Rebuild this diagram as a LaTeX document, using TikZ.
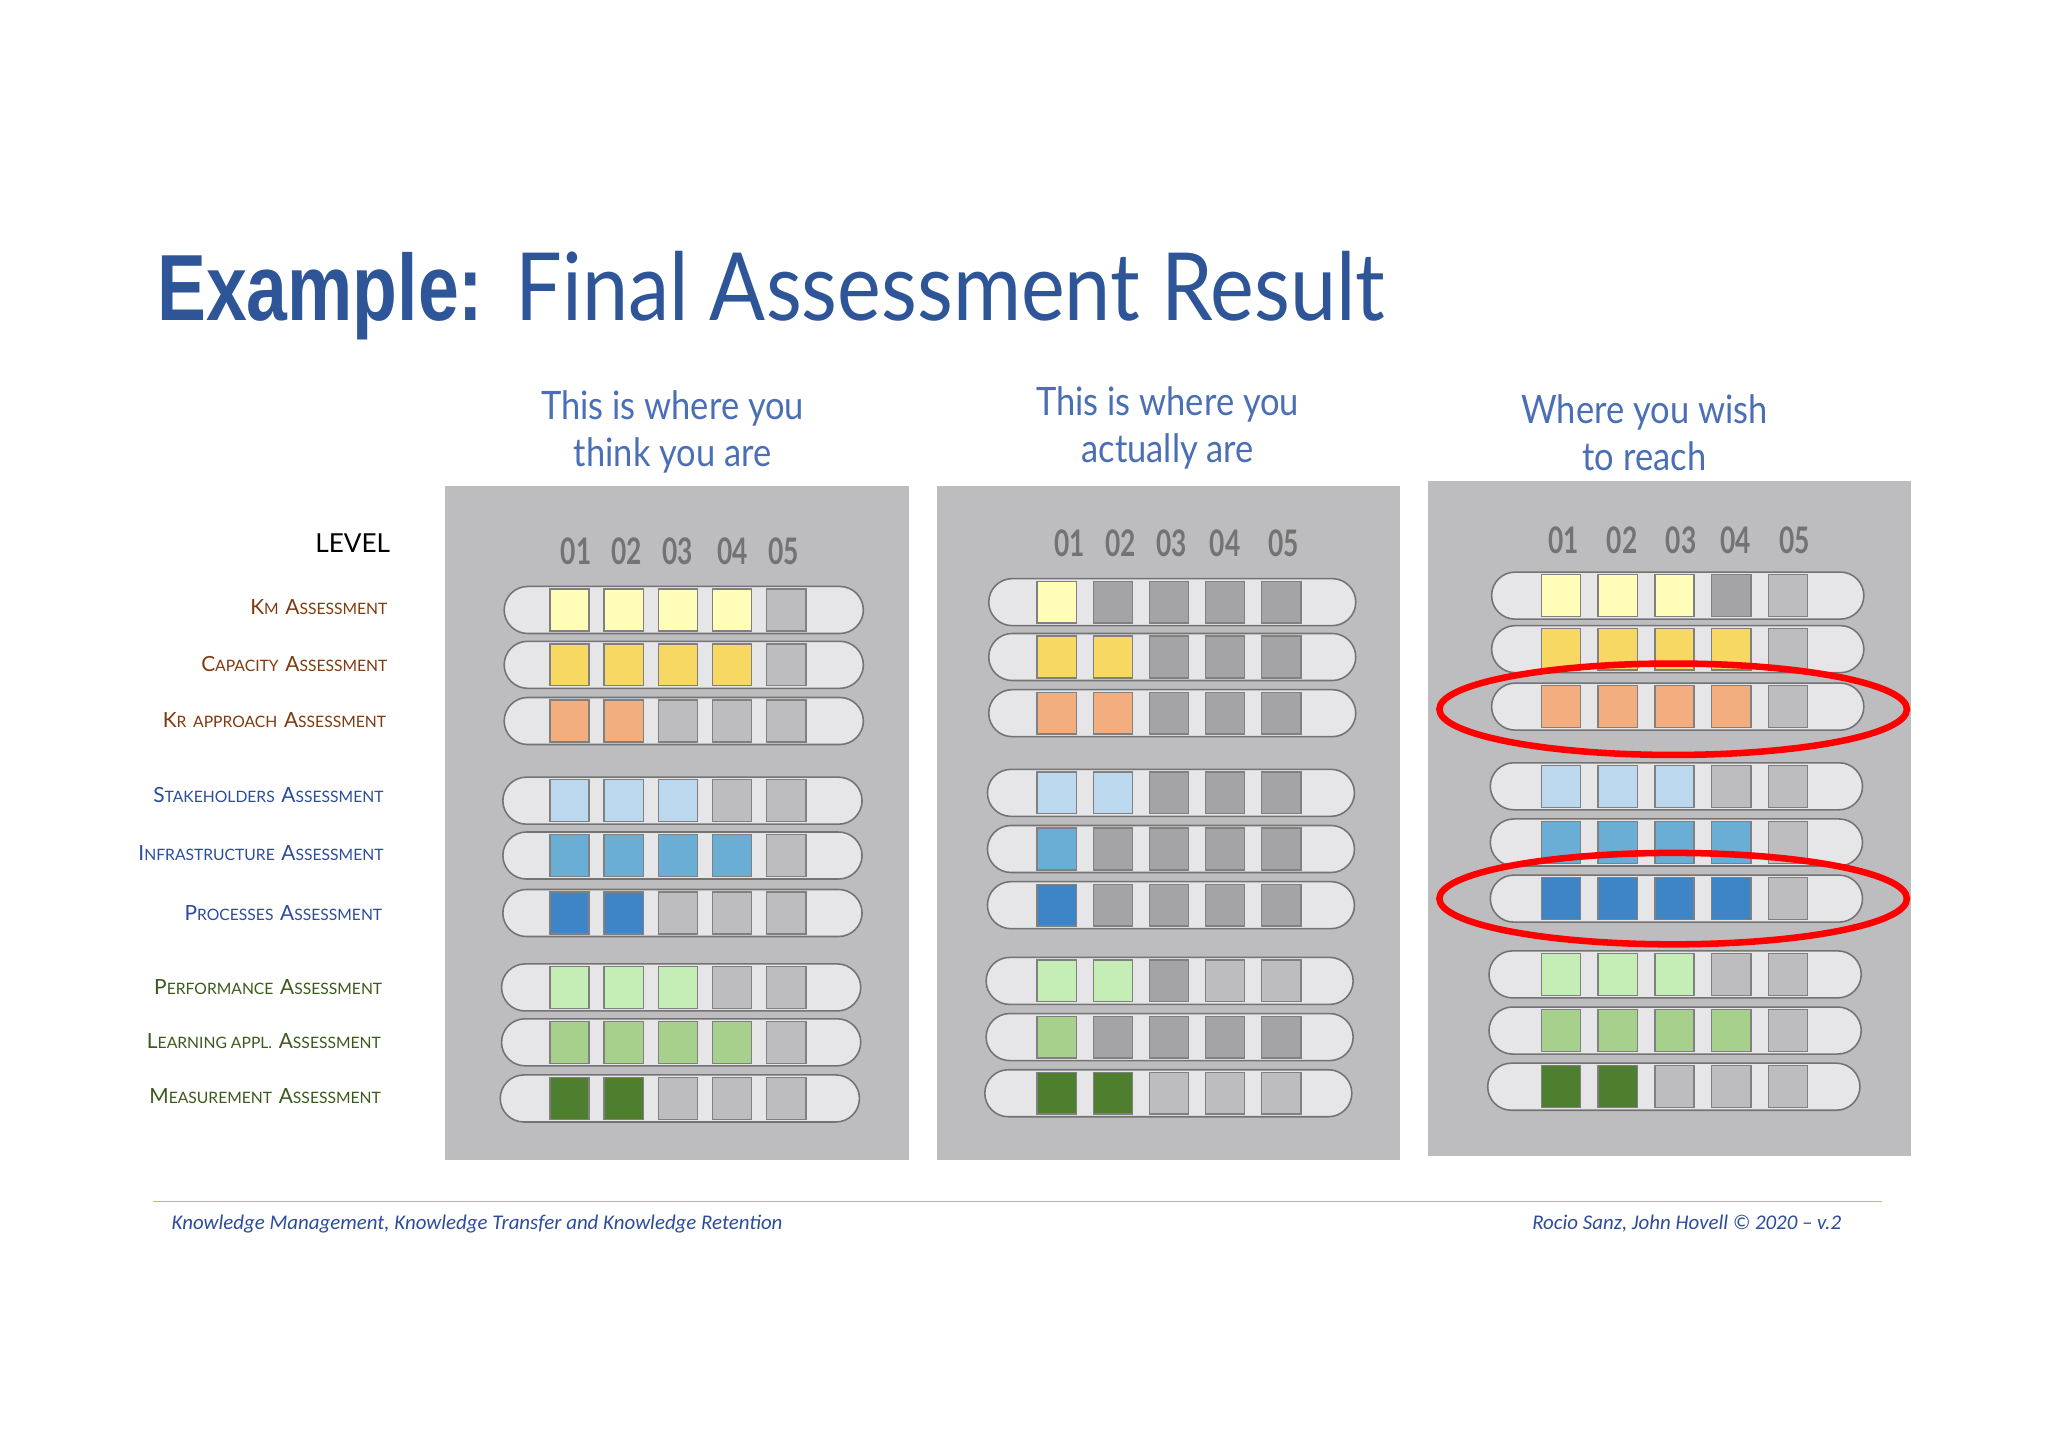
\documentclass[tikz,border=0pt]{standalone}
\usepackage{fontspec}
\setmainfont{Lato}
\newfontfamily\numfont[FakeStretch=0.72]{Lato}
\newfontfamily\narrowfont[FakeStretch=0.88]{Lato}
\newfontfamily\titlefont[FakeStretch=0.78]{Liberation Sans}
\newfontfamily\footfont{Carlito}
\definecolor{panel}{HTML}{BDBCBE}
\definecolor{pill}{HTML}{E6E6E8}
\definecolor{tblue}{HTML}{2E5597}
\definecolor{hblue}{HTML}{4A6FB5}
\definecolor{lbrown}{HTML}{7F3A0E}
\definecolor{lblue}{HTML}{2C4C9C}
\definecolor{lgreen}{HTML}{3B5A1C}
\definecolor{cA}{HTML}{FFFDB8}
\definecolor{cB}{HTML}{F7D862}
\definecolor{cC}{HTML}{F2AE7E}
\definecolor{cD}{HTML}{BBD8EE}
\definecolor{cE}{HTML}{6AAED6}
\definecolor{cF}{HTML}{3D85C6}
\definecolor{cG}{HTML}{C4EEB5}
\definecolor{cH}{HTML}{A6D08C}
\definecolor{cI}{HTML}{4E7F2E}
\definecolor{gL}{HTML}{BDBDBF}
\definecolor{gD}{HTML}{A4A4A6}
\newcommand{\fsc}[2]{{\fontsize{8}{9}\selectfont #1}{\fontsize{6}{7}\selectfont #2}}
\tikzset{
 pillbox/.style={draw=black!55,line width=0.6pt,fill=pill,rounded corners=9pt},
 sq/.style={draw=black!50,line width=0.5pt,minimum width=15pt,minimum height=16pt,inner sep=0pt},
 lab/.style={anchor=east,inner sep=0pt},
 hdr/.style={align=center,text=hblue,font=\narrowfont\fontsize{15}{18}\selectfont},
 num/.style={text=black!55,font=\numfont\bfseries\fontsize{14}{14}\selectfont},
 ring/.style={draw=red,line width=2.5pt}
}
% #1 x-left #2 x-right #3 y #4 first square x #5 spacing #6 colours
\newcommand{\pillrow}[6]{%
 \path[pillbox] (#1,#3-18) rectangle (#2,#3+18);
 \foreach \cc [count=\i] in {#6}{%
   \pgfmathsetmacro\xx{#4+(\i-1)*#5}%
   \node[sq,fill=\cc] at (\xx,#3) {};}}
\begin{document}
\begin{tikzpicture}[x=0.5pt,y=-0.5pt]
\useasboundingbox (0,0) rectangle (1568,1108);
\fill[white] (0,0) rectangle (1568,1108);
\node[anchor=base west,inner sep=0pt,text=tblue] (title) at (120,245)
 {\fontsize{36}{40}\selectfont{\titlefont\bfseries Example:} {\narrowfont Final Assessment Result}};
% panels
\fill[panel] (341,372) rectangle (696,888);
\fill[panel] (717,372) rectangle (1072,888);
\fill[panel] (1093,368) rectangle (1463,885);
\node[hdr] (h1) at (515,331) {This is where you\\think you are};
\node[hdr] (h2) at (894,328) {This is where you\\actually are};
\node[hdr] (h3) at (1259,331) {Where you wish\\to reach};
% numbers
\foreach \x/\t in {441/01,480/02,519/03,561/04,600/05}{\node[num] at (\x,422) {\t};}
\foreach \x/\t in {819/01,858/02,897/03,938/04,983/05}{\node[num] at (\x,416) {\t};}
\foreach \x/\t in {1197/01,1242/02,1287/03,1329/04,1374/05}{\node[num] at (\x,414) {\t};}
% labels
\node[lab] (lev) at (299,416) {\fontsize{10}{12}\selectfont LEVEL};
\node[lab,text=lbrown] at (297,465) {\fsc{K}{M} \fsc{A}{SSESSMENT}};
\node[lab,text=lbrown] at (297,508) {\fsc{C}{APACITY} \fsc{A}{SSESSMENT}};
\node[lab,text=lbrown] at (296,551) {\fsc{K}{R} \fsc{}{APPROACH} \fsc{A}{SSESSMENT}};
\node[lab,text=lblue] at (294,609) {\fsc{S}{TAKEHOLDERS} \fsc{A}{SSESSMENT}};
\node[lab,text=lblue] at (294,653) {\fsc{I}{NFRASTRUCTURE} \fsc{A}{SSESSMENT}};
\node[lab,text=lblue] at (293,699) {\fsc{P}{ROCESSES} \fsc{A}{SSESSMENT}};
\node[lab,text=lgreen] at (293,756) {\fsc{P}{ERFORMANCE} \fsc{A}{SSESSMENT}};
\node[lab,text=lgreen] at (292,797) {\fsc{L}{EARNING APPL.} \fsc{A}{SSESSMENT}};
\node[lab,text=lgreen] at (292,839) {\fsc{M}{EASUREMENT} \fsc{A}{SSESSMENT}};
% panel 1
\pillrow{386}{661}{467}{436}{41.5}{cA,cA,cA,cA,gL}
\pillrow{386}{661}{509}{436}{41.5}{cB,cB,cB,cB,gL}
\pillrow{386}{661}{552}{436}{41.5}{cC,cC,gL,gL,gL}
\pillrow{385}{660}{613}{436}{41.5}{cD,cD,cD,gL,gL}
\pillrow{385}{660}{655}{436}{41.5}{cE,cE,cE,cE,gL}
\pillrow{385}{660}{699}{436}{41.5}{cF,cF,gL,gL,gL}
\pillrow{384}{659}{756}{436}{41.5}{cG,cG,cG,gL,gL}
\pillrow{384}{659}{798}{436}{41.5}{cH,cH,cH,cH,gL}
\pillrow{383}{658}{841}{436}{41.5}{cI,cI,gL,gL,gL}
% panel 2
\pillrow{757}{1038}{461}{809}{43}{cA,gD,gD,gD,gD}
\pillrow{757}{1038}{503}{809}{43}{cB,cB,gD,gD,gD}
\pillrow{757}{1038}{546}{809}{43}{cC,cC,gD,gD,gD}
\pillrow{756}{1037}{607}{809}{43}{cD,cD,gD,gD,gD}
\pillrow{756}{1037}{650}{809}{43}{cE,gD,gD,gD,gD}
\pillrow{756}{1037}{693}{809}{43}{cF,gD,gD,gD,gD}
\pillrow{755}{1036}{751}{809}{43}{cG,cG,gD,gL,gL}
\pillrow{755}{1036}{794}{809}{43}{cH,gD,gD,gD,gD}
\pillrow{754}{1035}{837}{809}{43}{cI,cI,gL,gL,gL}
% panel 3
\pillrow{1142}{1427}{456}{1195}{43.5}{cA,cA,cA,gD,gL}
\pillrow{1142}{1427}{497}{1195}{43.5}{cB,cB,cB,cB,gL}
\pillrow{1142}{1427}{541}{1195}{43.5}{cC,cC,cC,cC,gL}
\pillrow{1141}{1426}{602}{1195}{43.5}{cD,cD,cD,gL,gL}
\pillrow{1141}{1426}{645}{1195}{43.5}{cE,cE,cE,cE,gL}
\pillrow{1141}{1426}{688}{1195}{43.5}{cF,cF,cF,cF,gL}
\pillrow{1140}{1425}{746}{1195}{43.5}{cG,cG,cG,gL,gL}
\pillrow{1140}{1425}{789}{1195}{43.5}{cH,cH,cH,cH,gL}
\pillrow{1139}{1424}{832}{1195}{43.5}{cI,cI,gL,gL,gL}
\draw[ring] (1281,543) ellipse [x radius=179,y radius=35];
\draw[ring] (1281,688) ellipse [x radius=179,y radius=35];
% footer
\draw[draw={rgb,255:red,200;green,182;blue,122},line width=0.6pt] (117,920) -- (1441,920);
\node[anchor=west,inner sep=0pt,text=lblue] (f1) at (131,937) {\footfont\itshape\fontsize{8}{9}\selectfont Knowledge Management, Knowledge Transfer and Knowledge Retention};
\node[anchor=east,inner sep=0pt,text=lblue] (f2) at (1410,937) {\footfont\itshape\fontsize{8}{9}\selectfont Rocio Sanz, John Hovell © 2020 – v.2};
\end{tikzpicture}
\end{document}
